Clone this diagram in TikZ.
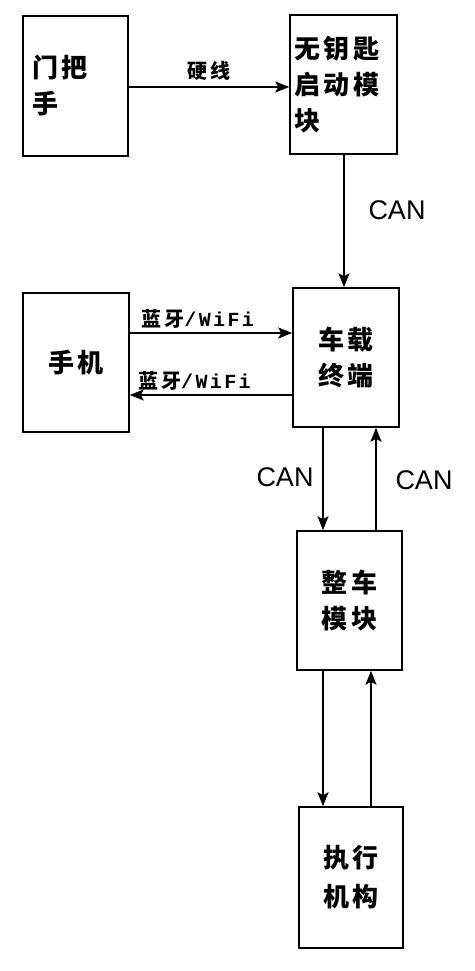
\documentclass[tikz,border=0pt]{standalone}
\usepackage{fontspec}
\newfontfamily\cjk[LetterSpace=15]{Noto Sans CJK SC}
\newfontfamily\cjklab[LetterSpace=12]{Noto Sans CJK SC}
\newfontfamily\monolab[LetterSpace=12]{Liberation Mono}
\newfontfamily\canfont{Liberation Sans}
\usetikzlibrary{positioning,arrows.meta}

\begin{document}
\begin{tikzpicture}[
  x=1pt, y=-1pt,
  box/.style={draw,line width=1.5pt,inner ysep=0pt,
              font=\cjk\bfseries\fontsize{26}{36}\selectfont},
  lab/.style={font=\cjklab\bfseries\fontsize{20}{22}\selectfont,inner sep=0pt},
  can/.style={font=\canfont\fontsize{27}{30}\selectfont,inner sep=0pt},
  arr/.style={draw,line width=2.2pt,-{Stealth[length=14pt,width=11pt,inset=3pt]}}
]
\useasboundingbox (0,0) rectangle (474,971);
% blocks
\node[box,align=left,text width=87pt,inner xsep=9pt,minimum height=140pt]
  (handle) at (75.5,86) {门把\\手};
\node[box,align=left,text width=99pt,inner xsep=4pt,minimum height=139pt]
  (keyless) at (343.5,84.5) {无钥匙\\启动模\\块};
\node[box,align=center,text width=94pt,inner xsep=6pt,minimum height=139pt]
  (phone) at (76,362.5) {手机};
\node[box,align=center,text width=94pt,inner xsep=6pt,minimum height=139pt]
  (term) at (346,357.5) {车载\\终端};
\node[box,align=center,text width=93pt,inner xsep=6pt,minimum height=139pt]
  (veh) at (349.5,600.5) {整车\\模块};
\node[box,align=center,text width=92pt,inner xsep=6pt,minimum height=141pt,
  font=\cjk\bfseries\fontsize{26}{39}\selectfont]
  (act) at (351,877.5) {执行\\机构};

% connectors
\draw[arr] (handle.east |- 0,87) -- (keyless.west |- 0,87)
  node[lab,midway,above=5pt] (wire) {硬线};
\draw[arr] (keyless.south -| 344,0) -- (344,0 |- term.north);
\node[can] (can1) at (397,210) {CAN};

\draw[arr] (phone.east |- 0,333) -- (term.west |- 0,333)
  node[lab,pos=0.42,above=3pt] (bt1) {蓝牙{\monolab\bfseries\fontsize{20}{22}\selectfont/WiFi}};
\draw[arr] (term.west |- 0,395) -- (phone.east |- 0,395)
  node[lab,pos=0.6,above=3pt] (bt2) {蓝牙{\monolab\bfseries\fontsize{20}{22}\selectfont/WiFi}};

\draw[arr] (term.south -| 323,0) -- (323,0 |- veh.north);
\draw[arr] (veh.north -| 376,0) -- (376,0 |- term.south);
\node[can] (can2) at (285,477) {CAN};
\node[can] (can3) at (424,480) {CAN};

\draw[arr] (veh.south -| 323,0) -- (323,0 |- act.north);
\draw[arr] (act.north -| 371,0) -- (371,0 |- veh.south);
\end{tikzpicture}
\end{document}
